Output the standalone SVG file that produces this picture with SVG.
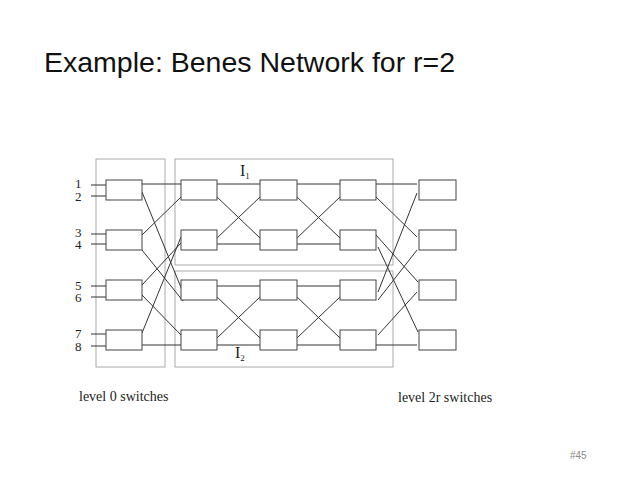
<svg xmlns="http://www.w3.org/2000/svg" width="638" height="478" viewBox="0 0 638 478">
<style>
.b{fill:#fff;stroke:#444;stroke-width:1}
.g{fill:none;stroke:#aaa;stroke-width:1}
.c line{stroke:#333;stroke-width:1}
.t{font-family:"Liberation Serif",serif;font-size:14px;fill:#222}
.n{font-size:13px}
</style>
<rect width="638" height="478" fill="#fff"/>
<text x="44" y="72" font-family="Liberation Sans,sans-serif" font-size="28.5" fill="#111">Example: Benes Network for r=2</text>
<g id="frames">
<rect class="g" x="96" y="159" width="69" height="208"/>
<rect class="g" x="175" y="159" width="218" height="106"/>
<rect class="g" x="175" y="271" width="218" height="96"/>
</g>
<g class="c" id="connectors">
<line x1="91" y1="185" x2="106" y2="185"/><line x1="91" y1="196" x2="106" y2="196"/>
<line x1="91" y1="234" x2="106" y2="234"/><line x1="91" y1="244" x2="106" y2="244"/>
<line x1="91" y1="286" x2="106" y2="286"/><line x1="91" y1="297" x2="106" y2="297"/>
<line x1="91" y1="334" x2="106" y2="334"/><line x1="91" y1="346" x2="106" y2="346"/>
<line x1="142" y1="184" x2="181" y2="184"/>
<line x1="142" y1="192" x2="182" y2="290"/>
<line x1="142" y1="235" x2="181" y2="197"/>
<line x1="142" y1="250" x2="183" y2="301"/>
<line x1="142" y1="285" x2="181" y2="243"/>
<line x1="142" y1="295" x2="181" y2="335"/>
<line x1="142" y1="333" x2="181" y2="237"/>
<line x1="142" y1="345" x2="181" y2="345"/>
<line x1="217" y1="184" x2="260" y2="184"/><line x1="217" y1="197" x2="260" y2="238"/>
<line x1="217" y1="238" x2="260" y2="197"/><line x1="217" y1="244" x2="260" y2="244"/>
<line x1="217" y1="286" x2="260" y2="286"/><line x1="217" y1="297" x2="260" y2="338"/>
<line x1="217" y1="338" x2="260" y2="297"/><line x1="217" y1="345" x2="260" y2="345"/>
<line x1="297" y1="184" x2="340" y2="184"/><line x1="297" y1="197" x2="340" y2="238"/>
<line x1="297" y1="238" x2="340" y2="197"/><line x1="297" y1="244" x2="340" y2="244"/>
<line x1="297" y1="286" x2="340" y2="286"/><line x1="297" y1="297" x2="340" y2="338"/>
<line x1="297" y1="338" x2="340" y2="297"/><line x1="297" y1="345" x2="340" y2="345"/>
<line x1="376" y1="184" x2="417" y2="184"/>
<line x1="376" y1="197" x2="417" y2="237"/>
<line x1="376" y1="235" x2="418" y2="282"/>
<line x1="378" y1="247" x2="418" y2="332"/>
<line x1="378" y1="292" x2="417" y2="193"/>
<line x1="378" y1="300" x2="417" y2="250"/>
<line x1="378" y1="335" x2="417" y2="292"/>
<line x1="376" y1="345" x2="417" y2="345"/>
</g>
<g id="col0"><rect class="b" x="106" y="180" width="36" height="20"/><rect class="b" x="106" y="230" width="36" height="20"/><rect class="b" x="106" y="280" width="36" height="20"/><rect class="b" x="106" y="330" width="36" height="20"/></g>
<g id="col1"><rect class="b" x="181" y="180" width="36" height="20"/><rect class="b" x="181" y="230" width="36" height="20"/><rect class="b" x="181" y="280" width="36" height="20"/><rect class="b" x="181" y="330" width="36" height="20"/></g>
<g id="col2"><rect class="b" x="260" y="180" width="37" height="20"/><rect class="b" x="260" y="230" width="37" height="20"/><rect class="b" x="260" y="280" width="37" height="20"/><rect class="b" x="260" y="330" width="37" height="20"/></g>
<g id="col3"><rect class="b" x="340" y="180" width="36" height="20"/><rect class="b" x="340" y="230" width="36" height="20"/><rect class="b" x="340" y="280" width="36" height="20"/><rect class="b" x="340" y="330" width="36" height="20"/></g>
<g id="col4"><rect class="b" x="419" y="180" width="37" height="20"/><rect class="b" x="419" y="230" width="37" height="20"/><rect class="b" x="419" y="280" width="37" height="20"/><rect class="b" x="419" y="330" width="37" height="20"/></g>
<g id="labels" class="t">
<text class="n" x="75" y="188">1</text><text class="n" x="75" y="201">2</text>
<text class="n" x="75" y="237">3</text><text class="n" x="75" y="249">4</text>
<text class="n" x="75" y="290">5</text><text class="n" x="75" y="302">6</text>
<text class="n" x="75" y="338">7</text><text class="n" x="75" y="351">8</text>
<text x="240" y="176" font-size="16">I<tspan font-size="9" dy="3">1</tspan></text>
<text x="235" y="358" font-size="16">I<tspan font-size="9" dy="3">2</tspan></text>
<text x="79" y="401">level 0 switches</text>
<text x="398" y="402">level 2r switches</text>
</g>
<text x="570" y="459" font-family="Liberation Sans,sans-serif" font-size="10" fill="#888">#45</text>
</svg>
